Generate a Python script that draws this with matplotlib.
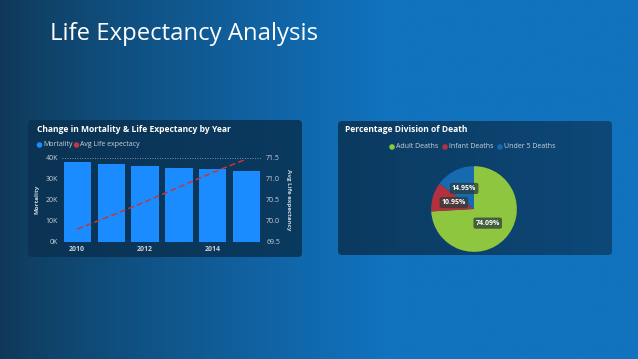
import numpy as np
import matplotlib as mpl
mpl.use('Agg')
from matplotlib import pyplot as plt
from matplotlib.patches import FancyBboxPatch
from matplotlib.ticker import FuncFormatter

## ------------------------------------------------------------------
##  Data
## ------------------------------------------------------------------
years = [2010, 2011, 2012, 2013, 2014, 2015]
mortality = [37800, 36800, 35900, 35200, 34400, 33800]
life_exp = [69.80, 70.12, 70.45, 70.80, 71.15, 71.47]

death_labels = ['Adult Deaths', 'Infant Deaths', 'Under 5 Deaths']
death_share = [74.09, 10.95, 14.95]
death_colors = ['#8fc640', '#b3303e', '#1769b0']

W, H = 638, 359
plt.rcParams['font.family'] = ['Open Sans', 'DejaVu Sans']


def px_box(x0, y0, x1, y1):
    return [x0 / W, 1 - y1 / H, (x1 - x0) / W, (y1 - y0) / H]


fig = plt.figure(figsize=(W / 100, H / 100), dpi=100)

# background gradient
bg = fig.add_axes([0, 0, 1, 1])
t = np.clip(np.linspace(0, 1, 400) / 0.6, 0, 1) ** 0.8
c0 = np.array([15, 56, 86]) / 255
c1 = np.array([17, 114, 190]) / 255
row = c0[None, :] * (1 - t[:, None]) + c1[None, :] * t[:, None]
bg.imshow(np.tile(row[None, :, :], (10, 1, 1)), aspect='auto',
          extent=[0, W, H, 0])
bg.set_xlim(0, W)
bg.set_ylim(H, 0)
bg.axis('off')

bg.text(50, 34, 'Life Expectancy Analysis', color='white', fontsize=17.2,
        va='center', ha='left')


def panel(x0, y0, x1, y1, ca, cb):
    patch = FancyBboxPatch((x0, y0), x1 - x0, y1 - y0,
                           boxstyle='round,pad=0,rounding_size=4',
                           fc='none', ec='none', transform=bg.transData)
    bg.add_patch(patch)
    g = np.linspace(0, 1, 200)
    ca = np.array(mpl.colors.to_rgb(ca))
    cb = np.array(mpl.colors.to_rgb(cb))
    grad = ca[None, :] * (1 - g[:, None]) + cb[None, :] * g[:, None]
    im = bg.imshow(np.tile(grad[None, :, :], (5, 1, 1)), aspect='auto',
                   extent=[x0, x1, y1, y0], zorder=1)
    im.set_clip_path(patch)


panel(28, 120, 302, 257, '#0a3354', '#0b3a5f')
panel(338, 121, 612, 255, '#0b3a60', '#0d4878')
bg.set_xlim(0, W)
bg.set_ylim(H, 0)

txt = '#c8d3de'

## ------------------------------------------------------------------
##  Left panel: bars + line
## ------------------------------------------------------------------
bg.text(37, 129, 'Change in Mortality & Life Expectancy by Year',
        color='white', fontsize=6.1, fontweight='bold', va='center', zorder=3)
bg.scatter([39.5, 76.5], [145, 145], s=9, color=['#1a8cff', '#c0373f'],
           zorder=3)
bg.text(43, 145, 'Mortality', color=txt, fontsize=5, va='center', zorder=3)
bg.text(80, 145, 'Avg Life expectacy', color=txt, fontsize=5, va='center',
        zorder=3)

ax = fig.add_axes(px_box(62, 157.7, 262, 241.7))
ax.patch.set_alpha(0)
ax.bar(years, mortality, width=0.8, color='#1a8cff', zorder=2)
ax.set_xlim(2009.55, 2015.45)
ax.set_ylim(0, 40000)
ax.set_yticks([0, 10000, 20000, 30000, 40000])
ax.yaxis.set_major_formatter(FuncFormatter(lambda v, p: f'{int(v / 1000)}K'))
ax.set_xticks([2010, 2012, 2014])
ax.axhline(40000, color='#9fb3c6', lw=0.6, ls=(0, (1, 2)), zorder=1)
for s in ax.spines.values():
    s.set_visible(False)
ax.tick_params(length=0, labelsize=5, colors=txt, pad=3)
for lbl in ax.get_xticklabels():
    lbl.set_fontweight('bold')
ax.set_ylabel('Mortality', color=txt, fontsize=4.5, fontweight='bold',
              labelpad=4)

ax2 = ax.twinx()
ax2.plot(years, life_exp, color='#c0373f', lw=1.1, ls=(0, (4, 2)), zorder=3)
ax2.set_ylim(69.5, 71.5)
ax2.set_yticks([69.5, 70.0, 70.5, 71.0, 71.5])
ax2.yaxis.set_major_formatter(FuncFormatter(lambda v, p: f'{v:.1f}'))
for s in ax2.spines.values():
    s.set_visible(False)
ax2.tick_params(length=0, labelsize=5, colors=txt, pad=3)
ax2.set_ylabel('Avg Life expectancy', color=txt, fontsize=4.5,
               fontweight='bold', rotation=270, labelpad=8)

## ------------------------------------------------------------------
##  Right panel: pie
## ------------------------------------------------------------------
bg.text(345, 129, 'Percentage Division of Death', color='white', fontsize=6.1,
        fontweight='bold', va='center', zorder=3)
leg_x = [392, 445, 500]
bg.scatter(leg_x, [147, 147, 147], s=9, color=death_colors, zorder=3)
for x, lab in zip(leg_x, death_labels):
    bg.text(x + 4, 147, lab, color=txt, fontsize=5, va='center', zorder=3)

pax = fig.add_axes(px_box(429, 164, 519, 254))
wedges, texts = pax.pie(death_share, colors=death_colors, startangle=90,
                        counterclock=False, radius=1.0)
pax.set_xlim(-1.05, 1.05)
pax.set_ylim(-1.05, 1.05)
pax.set_aspect('equal')
lab_pos = [(0.32, -0.33), (-0.47, 0.15), (-0.23, 0.48)]
for (x, y), v in zip(lab_pos, death_share):
    pax.text(x, y, f'{v:.2f}%', color='white', fontsize=5,
             fontweight='bold', ha='center', va='center',
             bbox=dict(boxstyle='round,pad=0.3,rounding_size=0.3',
                       fc='#2a3d3a', ec='none', alpha=0.75))

fig.savefig('out.png', dpi=100)
